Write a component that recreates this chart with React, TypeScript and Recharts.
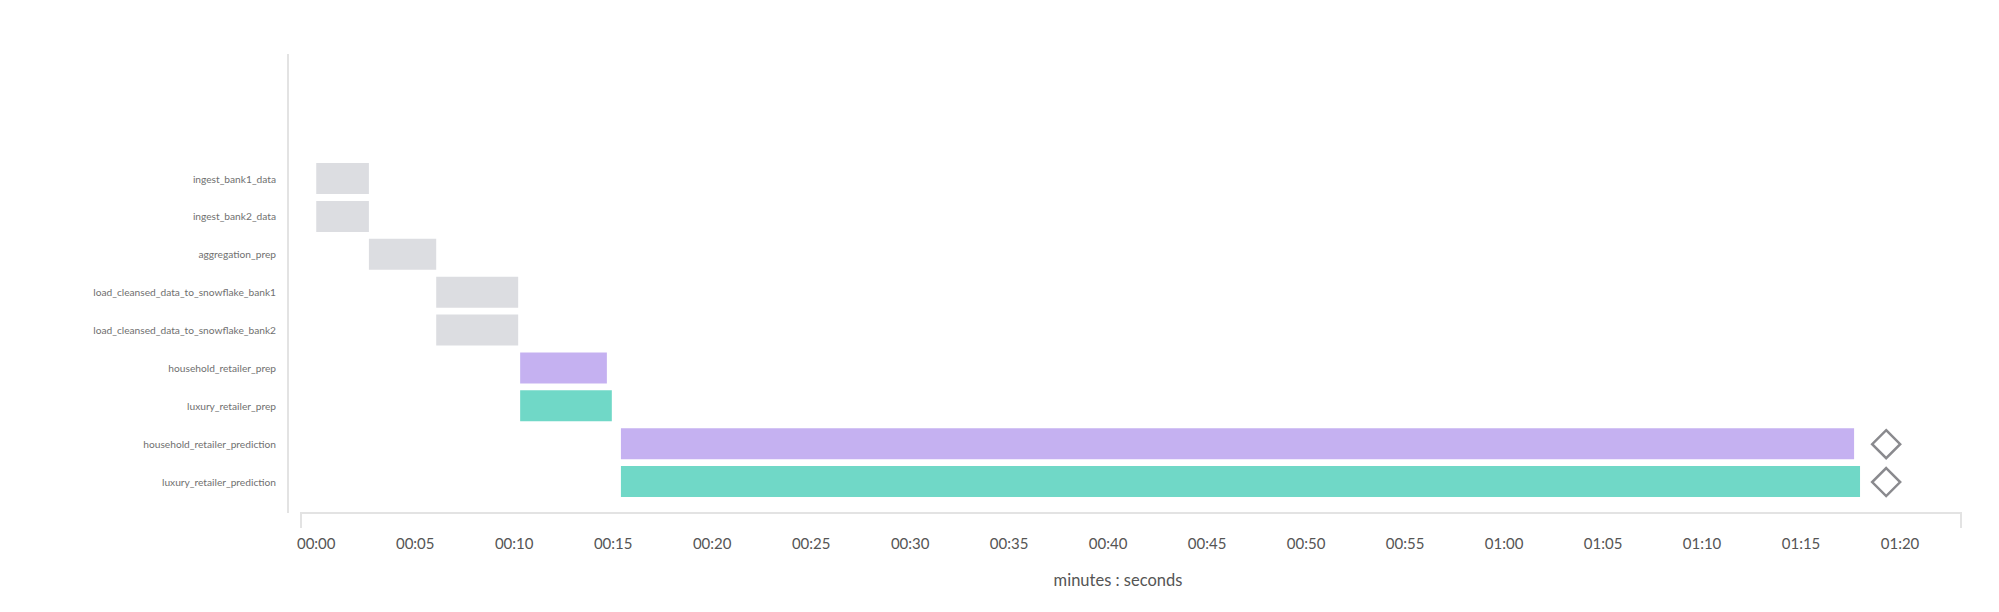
import { ComposedChart, Bar, Cell, Scatter, XAxis, YAxis } from 'recharts';

// task rows, top to bottom
const tasks = [
  'ingest_bank1_data',
  'ingest_bank2_data',
  'aggregation_prep',
  'load_cleansed_data_to_snowflake_bank1',
  'load_cleansed_data_to_snowflake_bank2',
  'household_retailer_prep',
  'luxury_retailer_prep',
  'household_retailer_prediction',
  'luxury_retailer_prediction',
];

// seconds since run start
const starts = [0, 0, 2.66, 6.06, 6.06, 10.3, 10.3, 15.39, 15.39];
const ends = [2.66, 2.66, 6.06, 10.2, 10.2, 14.68, 14.93, 77.68, 77.98];
const groups = ['base', 'base', 'base', 'base', 'base', 'household', 'luxury', 'household', 'luxury'];

// diamond markers after the prediction tasks
const markerTasks = ['household_retailer_prediction', 'luxury_retailer_prediction'];
const markerTimes = [79.3, 79.3];

const xTicks = [0, 5, 10, 15, 20, 25, 30, 35, 40, 45, 50, 55, 60, 65, 70, 75, 80];

const groupColors: Record<string, string> = {
  base: '#dcdde1',
  household: '#c5b1f1',
  luxury: '#70d8c7',
};

const data = tasks.map((name, i) => ({ name, start: starts[i], end: ends[i], group: groups[i] }));
const markers = markerTasks.map((name, i) => ({ name, marker: markerTimes[i] }));

const W = 1983;
const H = 596;
const Y_AXIS_W = 293;
const X_AXIS_H = 91;
const MARGIN = { top: 46, right: 30, bottom: 0, left: 0 };
const PLOT_LEFT = MARGIN.left + Y_AXIS_W;
const PLOT_RIGHT = W - MARGIN.right;
const PLOT_BOTTOM = H - MARGIN.bottom - X_AXIS_H;
const AXIS_COLOR = '#e3e3e3';

const fmt = (s: number) => {
  const m = Math.floor(s / 60);
  const sec = Math.round(s % 60);
  return `${String(m).padStart(2, '0')}:${String(sec).padStart(2, '0')}`;
};

const Diamond = (props: any) => {
  const { cx, cy } = props;
  if (cx == null || cy == null) return null;
  const r = 14;
  return (
    <path
      d={`M${cx},${cy - r} L${cx + r},${cy} L${cx},${cy + r} L${cx - r},${cy} Z`}
      fill="#fff"
      stroke="#8a8a8e"
      strokeWidth={2.5}
    />
  );
};

// y axis line sits a bit left of the plot, x axis is a bracket
function AxisFrame() {
  const yx = PLOT_LEFT - 13;
  return (
    <g>
      <line x1={yx} y1={MARGIN.top} x2={yx} y2={PLOT_BOTTOM} stroke={AXIS_COLOR} strokeWidth={2} />
      <path
        d={`M${PLOT_LEFT},${PLOT_BOTTOM + 15} L${PLOT_LEFT},${PLOT_BOTTOM} L${PLOT_RIGHT},${PLOT_BOTTOM} L${PLOT_RIGHT},${PLOT_BOTTOM + 15}`}
        fill="none"
        stroke={AXIS_COLOR}
        strokeWidth={2}
      />
    </g>
  );
}

export default function App() {
  return (
    <div style={{ width: W, height: H, fontFamily: 'Lato, sans-serif' }}>
      <ComposedChart width={W} height={H} data={data} layout="vertical" margin={MARGIN}>
        <XAxis
          type="number"
          domain={[-0.77, 83.08]}
          ticks={xTicks}
          tickFormatter={fmt}
          allowDataOverflow
          axisLine={false}
          tickLine={false}
          tickSize={0}
          tickMargin={25}
          height={X_AXIS_H}
          tick={{ fill: '#555', fontSize: 15 }}
          label={{ value: 'minutes : seconds', position: 'insideBottom', offset: 18, dx: -13, fill: '#555', fontSize: 16.5 }}
        />
        <YAxis
          type="category"
          dataKey="name"
          width={Y_AXIS_W}
          allowDuplicatedCategory={false}
          padding={{ top: 106, bottom: 12 }}
          axisLine={false}
          tickLine={false}
          tickSize={0}
          tickMargin={25}
          interval={0}
          tick={{ fill: '#707070', fontSize: 10.2 }}
        />
        <Bar dataKey={(d: any) => [d.start, d.end]} barSize={31} isAnimationActive={false}>
          {data.map((d, i) => (
            <Cell key={i} fill={groupColors[d.group]} />
          ))}
        </Bar>
        <Scatter data={markers} dataKey="marker" shape={<Diamond />} isAnimationActive={false} />
        <AxisFrame />
      </ComposedChart>
    </div>
  );
}
